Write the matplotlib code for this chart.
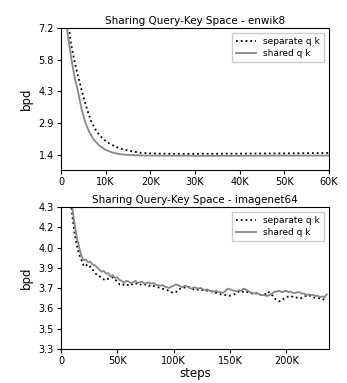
import numpy as np
import matplotlib
matplotlib.use("Agg")
import matplotlib.pyplot as plt

# enwik8 curves (steps in thousands, bpd)
enwik_sep_steps = [0, 1.8, 2.2, 2.9, 3.8, 4.7, 5.8, 6.8, 8.0, 9.3, 10.5, 12.0, 13.5,
                   15.5, 17.7, 20, 25, 30, 40, 50, 60]
enwik_sep_bpd = [9.5, 7.2, 6.5, 5.8, 5.0, 4.3, 3.5, 2.9, 2.45, 2.15, 1.95, 1.78, 1.67,
                 1.57, 1.49, 1.46, 1.44, 1.44, 1.45, 1.46, 1.48]
enwik_shared_steps = [0, 1.3, 2.3, 3.1, 3.8, 4.6, 5.4, 6.3, 7.3, 8.5, 10, 11.5, 13,
                      15, 17, 20, 30, 40, 50, 60]
enwik_shared_bpd = [9.0, 7.2, 5.8, 4.9, 4.3, 3.5, 2.9, 2.45, 2.1, 1.83, 1.62, 1.5, 1.43,
                    1.39, 1.37, 1.36, 1.35, 1.35, 1.36, 1.36]

# imagenet64 curves, logged every 2K steps from 4K to 236K
img_steps = list(range(4000, 238000, 2000))
img_sep_bpd = [5.0, 4.65, 4.40, 4.24, 4.12, 4.03, 3.97, 3.93, 3.89, 3.90,
               3.875, 3.88, 3.86, 3.84, 3.82, 3.815, 3.80, 3.79, 3.785, 3.795,
               3.80, 3.805, 3.79, 3.775, 3.755, 3.76, 3.75, 3.745, 3.755, 3.75,
               3.76, 3.765, 3.755, 3.75, 3.76, 3.755, 3.755, 3.745, 3.75, 3.745,
               3.74, 3.735, 3.73, 3.725, 3.72, 3.715, 3.71, 3.70, 3.695, 3.70,
               3.715, 3.725, 3.725, 3.735, 3.74, 3.735, 3.73, 3.72, 3.725, 3.715,
               3.72, 3.715, 3.715, 3.71, 3.71, 3.705, 3.70, 3.695, 3.69, 3.685,
               3.685, 3.68, 3.68, 3.675, 3.68, 3.685, 3.695, 3.705, 3.71, 3.70,
               3.705, 3.70, 3.70, 3.69, 3.695, 3.69, 3.685, 3.68, 3.68, 3.69,
               3.705, 3.69, 3.675, 3.655, 3.64, 3.635, 3.645, 3.655, 3.665, 3.67,
               3.675, 3.665, 3.665, 3.66, 3.655, 3.66, 3.67, 3.675, 3.68, 3.67,
               3.665, 3.66, 3.66, 3.655, 3.655, 3.645, 3.635]
img_shared_bpd = [5.0, 4.7, 4.45, 4.30, 4.18, 4.09, 4.02, 3.96, 3.925, 3.93,
                  3.91, 3.915, 3.895, 3.89, 3.875, 3.86, 3.845, 3.85, 3.83, 3.835,
                  3.81, 3.82, 3.80, 3.805, 3.785, 3.78, 3.765, 3.78, 3.775, 3.765,
                  3.77, 3.78, 3.765, 3.77, 3.775, 3.76, 3.765, 3.77, 3.76, 3.765,
                  3.755, 3.75, 3.745, 3.75, 3.74, 3.735, 3.73, 3.74, 3.745, 3.755,
                  3.75, 3.74, 3.735, 3.745, 3.74, 3.73, 3.725, 3.735, 3.73, 3.725,
                  3.73, 3.72, 3.715, 3.72, 3.71, 3.705, 3.705, 3.71, 3.70, 3.70,
                  3.695, 3.71, 3.725, 3.72, 3.715, 3.71, 3.705, 3.715, 3.71, 3.725,
                  3.72, 3.71, 3.70, 3.695, 3.69, 3.695, 3.685, 3.68, 3.68, 3.675,
                  3.675, 3.685, 3.695, 3.705, 3.705, 3.71, 3.70, 3.705, 3.71, 3.70,
                  3.705, 3.695, 3.695, 3.70, 3.70, 3.69, 3.69, 3.68, 3.685, 3.68,
                  3.68, 3.675, 3.675, 3.665, 3.67, 3.665, 3.685]

enwik_yticks = [1.4, 2.85, 4.3, 5.75, 7.2]
enwik_ylabels = ["1.4", "2.9", "4.3", "5.8", "7.2"]
enwik_xticks = [0, 10000, 20000, 30000, 40000, 50000, 60000]
enwik_xlabels = ["0", "10K", "20K", "30K", "40K", "50K", "60K"]
img_ylabels = ["3.3", "3.5", "3.6", "3.7", "3.9", "4.0", "4.2", "4.3"]
img_xticks = [0, 50000, 100000, 150000, 200000]
img_xlabels = ["0", "50K", "100K", "150K", "200K"]

W, H = 347, 383
fig = plt.figure(figsize=(W / 100, H / 100), dpi=100)
ax1 = fig.add_axes([61 / W, 1 - 170 / H, 268 / W, 142 / H])
ax2 = fig.add_axes([61 / W, 1 - 349 / H, 268 / W, 142 / H])

sep_style = dict(color="black", linestyle=":", linewidth=1.3)
shared_style = dict(color="#888888", linestyle="-", linewidth=1.3)

ax1.plot(np.array(enwik_sep_steps) * 1000, enwik_sep_bpd, label="separate q k", **sep_style)
ax1.plot(np.array(enwik_shared_steps) * 1000, enwik_shared_bpd, label="shared q k", **shared_style)
ax1.set_xlim(0, 60000)
ax1.set_ylim(0.7, 7.2)
ax1.set_yticks(enwik_yticks)
ax1.set_yticklabels(enwik_ylabels)
ax1.set_xticks(enwik_xticks)
ax1.set_xticklabels(enwik_xlabels)
ax1.set_ylabel("bpd", fontsize=8.5)
ax1.set_title("Sharing Query-Key Space - enwik8", fontsize=7.5, pad=3)

ax2.plot(img_steps, img_sep_bpd, label="separate q k", **sep_style)
ax2.plot(img_steps, img_shared_bpd, label="shared q k", **shared_style)
ax2.set_xlim(0, 238000)
ax2.set_ylim(3.3, 4.3)
ax2.set_yticks(np.linspace(3.3, 4.3, len(img_ylabels)))
ax2.set_yticklabels(img_ylabels)
ax2.set_xticks(img_xticks)
ax2.set_xticklabels(img_xlabels)
ax2.set_ylabel("bpd", fontsize=8.5)
ax2.set_xlabel("steps", fontsize=8.5, labelpad=1)
ax2.set_title("Sharing Query-Key Space - imagenet64", fontsize=7.5, pad=3)

for ax in (ax1, ax2):
    ax.tick_params(labelsize=7, length=3, pad=2)
    ax.legend(loc="upper right", fontsize=6.5, handlelength=2.2, borderpad=0.5,
              labelspacing=0.3, fancybox=False, framealpha=1)

fig.savefig("out.png", dpi=100)
